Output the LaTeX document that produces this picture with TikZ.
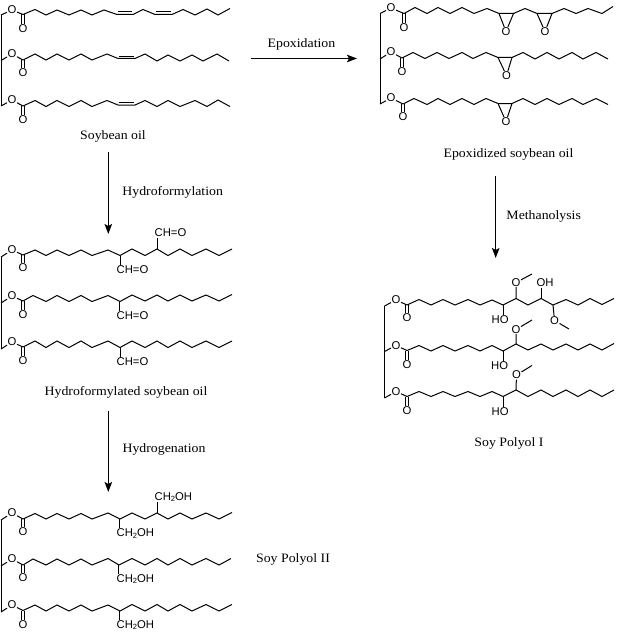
\documentclass[tikz,border=0pt]{standalone}
\usepackage{fontspec}
\setmainfont{Liberation Serif}
\newfontfamily\atomfont{Liberation Sans}
\newfontfamily\labelfont[FakeStretch=1.08]{Liberation Serif}
\usetikzlibrary{arrows.meta}
\tikzset{
  bond/.style={line width=1pt,line join=miter,line cap=butt},
  atom/.style={font=\atomfont\fontsize{11.3}{12}\selectfont,inner sep=0.6pt,outer sep=0pt},
  lbl/.style={font=\labelfont\fontsize{12.8}{14}\selectfont,inner sep=0pt},
  rxn/.style={line width=1.3pt,-{Stealth[length=10pt,width=7.5pt,inset=2pt]}},
  dbl/.style={line width=0.85pt}
}
% backbone end, ester O, carbonyl C, carbonyl O
\newcommand{\esterhead}[8]{%
  \coordinate (#1b) at (#2,#3);
  \node[atom] (#1o) at (#4,#5) {O};
  \coordinate (#1c) at (#6,#7);
  \node[atom] (#1d) at (#6,#8) {O};
  \draw[bond] (#1b) -- (#1o);
  \draw[bond] (#1o) -- (#1c);
  \draw[dbl] ([xshift=-1.1pt]#1c) -- ([xshift=-1.1pt]#1c |- #1d.north);
  \draw[dbl] ([xshift=1.1pt]#1c) -- ([xshift=1.1pt]#1c |- #1d.north);
}
% branch point, text start and vertical bond to text
\newcommand{\branch}[7]{%
  \coordinate (#1p) at (#2,#3);
  \node[atom,anchor=west] (#1t) at (#4,#5) {#7};
  \draw[bond] (#1p) -- (#1p |- #1t.#6);
}
\newcommand{\epox}[5]{%
  \coordinate (#1l) at (#2,#3);
  \coordinate (#1r) at (#4,#3);
  \node[atom] (#1o) at (#5,#3+18) {O};
  \draw[bond] (#1l) -- (#1r) -- (#1o) -- (#1l);
}
\begin{document}
\begin{tikzpicture}[x=1pt,y=-1pt]
\useasboundingbox (0,0) rectangle (617,634);

%% Soybean oil
\draw[bond] (1,15) -- (1,106);
\esterhead{a}{1}{15}{12}{10}{23}{14.5}{29}
\draw[bond] plot coordinates {(23,14.5) (35,9.5) (46,15) (57,10) (69,15) (81,10) (92,15) (104,10) (117,14.5) (133,14.5) (143,9.5) (155,14.5) (172,14.5) (183,9.5) (195,15) (207,9) (218,15) (230,8.5)};
\draw[dbl] (118,11.8) -- (132,11.8);
\draw[dbl] (156,11.8) -- (171,11.8);
\esterhead{b}{1}{60.5}{12}{54}{23}{60}{73}
\draw[bond] plot coordinates {(23,60) (35,54) (46,60) (57,54) (69,60) (81,54) (92,60) (107,54) (118,58.5) (135,58.5) (145,54) (157,61) (168,55) (180,61) (192,55) (203,61) (217,54) (229,61)};
\draw[dbl] (119,56) -- (134,56);
\esterhead{c}{1}{106}{12}{100}{23}{106}{120}
\draw[bond] plot coordinates {(23,106) (35,100.5) (46,106.5) (57,100.5) (69,106.5) (81,100.5) (92,106.5) (107,100.5) (118,105) (135,105) (145,100.5) (157,106.5) (168,100.5) (180,106.5) (195,100.5) (207,106.5) (218,100) (230,106.5)};
\draw[dbl] (119,102.5) -- (134,102.5);
\node[lbl] (soy) at (113,136.5) {Soybean oil};

%% Epoxidized
\draw[bond] (380,13.5) -- (380,104);
\esterhead{d}{380}{13.5}{391}{8}{404}{13.5}{28}
\draw[bond] plot coordinates {(404,13.5) (415,7.5) (427,13.5) (438,7.5) (450,13.5) (462,7.5) (474,13.5) (487,8.5) (499,13.5)};
\epox{e1}{499}{13.5}{513.5}{506}
\draw[bond] plot coordinates {(513.5,13.5) (525,8.5) (537,13.5)};
\epox{e2}{537}{13.5}{552}{545}
\draw[bond] plot coordinates {(552,13.5) (564,8.5) (576,13.5) (588,8.5) (602,13.5) (613,6.5)};
\esterhead{e}{380}{59}{391}{52}{402}{58}{72}
\draw[bond] plot coordinates {(402,58) (413,52.5) (425,58.5) (437,52.5) (449,58.5) (462,52.5) (473,58.5) (486,52.5) (498,57.5)};
\epox{e3}{498}{57.5}{512}{506.5}
\draw[bond] plot coordinates {(512,57.5) (523,52.5) (535,59) (547,52.5) (559,59) (572,52.5) (583,59) (596,52.5) (608,59)};
\esterhead{f}{380}{104}{391}{98}{403}{104}{117}
\draw[bond] plot coordinates {(403,104) (414,98.5) (427,104.5) (438,98.5) (450,104.5) (462,98.5) (474,104.5) (486,98.5) (498,103.5)};
\epox{e4}{498}{103.5}{512}{506}
\draw[bond] plot coordinates {(512,103.5) (523,98.5) (535,104.5) (547,98.5) (559,104.5) (572,98.5) (583,104.5) (596,98.5) (608,104.5)};
\node[lbl] (epx) at (508.5,154) {Epoxidized soybean oil};

%% Hydroformylated
\draw[bond] (1,257) -- (1,349);
\esterhead{g}{1}{257}{12}{250}{23}{255}{268}
\draw[bond] plot coordinates {(23,255) (35,250) (46,255.5) (57,250) (69,255.5) (81,250) (92,255.5) (108,250) (120,255.5) (132,249) (145,255.5) (157,249) (168,255.5) (180,249) (192,255.5) (206,249) (219,255.5) (232,249)};
\branch{g1}{120}{255.5}{116}{269.5}{north}{CH=O}
\branch{g2}{157}{249}{154}{233}{south}{CH=O}
\esterhead{h}{1}{303}{12}{296}{23}{301}{315}
\draw[bond] plot coordinates {(23,301) (33,295.5) (46,301.5) (57,295.5) (69,301.5) (81,295.5) (92,301.5) (108,295.5) (120,301.5) (132,295) (145,301) (157,295) (168,301) (180,295) (192,301) (206,295) (219,301) (232,294.5)};
\branch{h1}{119.5}{301.5}{116}{316}{north}{CH=O}
\esterhead{i}{1}{349}{12}{342}{23}{347}{361}
\draw[bond] plot coordinates {(23,347) (35,341) (46,347.5) (57,341) (69,347.5) (81,341) (92,347.5) (108,341) (120,347.5) (132,341) (145,347.5) (157,341) (168,347.5) (180,341) (192,347.5) (206,341) (219,347.5) (232,341)};
\branch{i1}{120}{347.5}{116}{361.5}{north}{CH=O}
\node[lbl] (hyf) at (126,392.5) {Hydroformylated soybean oil};

%% Soy Polyol II
\draw[bond] (1,520) -- (1,612);
\esterhead{j}{1}{520}{12}{513}{23}{519}{532}
\draw[bond] plot coordinates {(23,519) (35,513.5) (46,519) (57,513.5) (69,519) (81,513.5) (92,519) (108,513) (120,519) (132,513) (145,519) (157,513) (168,519) (180,513) (192,519) (206,513) (219,519) (232,512.5)};
\branch{j1}{119.5}{519}{116}{533.5}{north}{CH\raisebox{-1.5pt}{\fontsize{7.5}{8}\selectfont 2}OH}
\branch{j2}{157}{513}{154}{497}{south}{CH\raisebox{-1.5pt}{\fontsize{7.5}{8}\selectfont 2}OH}
\esterhead{k}{1}{566}{12}{559}{23}{565}{578}
\draw[bond] plot coordinates {(23,565) (33,559) (46,565) (57,559) (69,565) (81,559) (92,565) (108,558.5) (119,565) (132,558.5) (145,565) (157,558.5) (168,565) (180,558.5) (192,565) (206,558.5) (219,565) (231,558.5)};
\branch{k1}{118}{565}{116}{579}{north}{CH\raisebox{-1.5pt}{\fontsize{7.5}{8}\selectfont 2}OH}
\esterhead{l}{1}{612}{12}{605}{23}{610.5}{625}
\draw[bond] plot coordinates {(23,610.5) (35,605) (46,611) (57,605) (69,611) (81,605) (92,611) (108,605) (120,611) (132,604.5) (145,611) (157,604.5) (168,611) (180,604.5) (192,611) (206,604.5) (219,611) (232,604.5)};
\branch{l1}{119.5}{611}{116}{625}{north}{CH\raisebox{-1.5pt}{\fontsize{7.5}{8}\selectfont 2}OH}
\node[lbl] (poltwo) at (293,559.5) {Soy Polyol II};

%% Soy Polyol I
\draw[bond] (384.5,306) -- (384.5,398);
\esterhead{m}{384.5}{306}{396}{300}{407}{305}{318}
\draw[bond] plot coordinates {(407,305) (419,299.5) (431,305) (443,299.5) (455,305) (468,299.5) (480,305) (492,300) (503,305) (516,298.5) (528,305) (541,298.5) (553,305) (566,299.5) (578,305) (590,298.5) (602,304.5) (614,298.5)};
\node[atom] (m1o) at (516,282.5) {O};
\coordinate (m1p) at (516,298.5);
\coordinate (m1e) at (532,274);
\draw[bond] (m1p) -- (m1o) -- (m1e);
\coordinate (m2p) at (541,298.5);
\node[atom,anchor=west] (m2t) at (536,283) {OH};
\draw[bond] (m2p) -- (m2p |- m2t.south);
\coordinate (m3p) at (503,305);
\node[atom,anchor=west] (m3t) at (491,319.5) {HO};
\draw[bond] (m3p) -- (m3p |- m3t.north);
\node[atom] (m4o) at (554.5,320.5) {O};
\coordinate (m4p) at (553,305);
\coordinate (m4e) at (569,329);
\draw[bond] (m4p) -- (m4o) -- (m4e);
\esterhead{n}{384.5}{351.5}{396}{345.5}{407}{350.5}{364.5}
\draw[bond] plot coordinates {(407,350.5) (419,345.5) (431,351) (443,345.5) (455,351) (468,345.5) (480,351) (492,345.5) (503,351) (516,344) (528,350) (541,344) (553,350) (566,344) (578,350) (590,344) (602,350) (614,343.5)};
\node[atom] (n1o) at (516,329.5) {O};
\coordinate (n1p) at (516,344);
\coordinate (n1e) at (532,320);
\draw[bond] (n1p) -- (n1o) -- (n1e);
\coordinate (n2p) at (503,351);
\node[atom,anchor=west] (n2t) at (490.5,365.5) {HO};
\draw[bond] (n2p) -- (n2p |- n2t.north);
\esterhead{o}{384.5}{398}{396}{391.5}{407}{396.5}{411}
\draw[bond] plot coordinates {(407,396.5) (419,391.5) (431,396.5) (443,391.5) (455,396.5) (468,391.5) (480,396.5) (492,391.5) (503,396.5) (516,390) (528,396.5) (541,390) (553,396.5) (566,390) (578,396.5) (590,390) (602,396.5) (614,390)};
\node[atom] (o1o) at (516.5,375) {O};
\coordinate (o1p) at (516,390);
\coordinate (o1e) at (532,365.5);
\draw[bond] (o1p) -- (o1o) -- (o1e);
\coordinate (o2p) at (503,396.5);
\node[atom,anchor=west] (o2t) at (491,411.5) {HO};
\draw[bond] (o2p) -- (o2p |- o2t.north);
\node[lbl] (polone) at (509,443) {Soy Polyol I};

%% Arrows
\coordinate (r1a) at (250.5,58.5);
\coordinate (r1b) at (357,58.5);
\draw[rxn] (r1a) -- (r1b);
\node[lbl] (t1) at (301.5,44) {Epoxidation};
\coordinate (r2a) at (108.3,152);
\coordinate (r2b) at (108.3,234);
\draw[rxn] (r2a) -- (r2b);
\node[lbl] (t2) at (172.7,192) {Hydroformylation};
\coordinate (r3a) at (108.3,410.5);
\coordinate (r3b) at (108.3,492);
\draw[rxn] (r3a) -- (r3b);
\node[lbl] (t3) at (164,449) {Hydrogenation};
\coordinate (r4a) at (495.7,176);
\coordinate (r4b) at (495.7,258);
\draw[rxn] (r4a) -- (r4b);
\node[lbl] (t4) at (543.7,216.5) {Methanolysis};
\end{tikzpicture}
\end{document}
